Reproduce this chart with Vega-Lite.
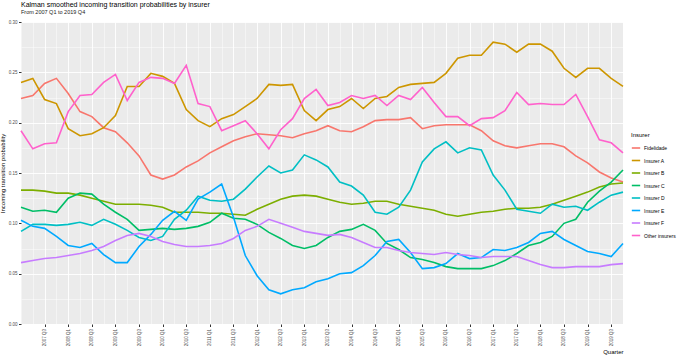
{
  "$schema": "https://vega.github.io/schema/vega-lite/v6.json",
  "width": 602,
  "height": 302,
  "autosize": {"type": "none"},
  "padding": {"left": 21, "top": 22, "right": 57, "bottom": 31},
  "background": "white",
  "title": {
    "text": "Kalman smoothed incoming transition probabilities by insurer",
    "subtitle": "From 2007 Q1 to 2019 Q4",
    "anchor": "start",
    "frame": "group",
    "font": "Liberation Sans",
    "fontSize": 7,
    "fontWeight": "normal",
    "color": "#000000",
    "subtitleFont": "Liberation Sans",
    "subtitleFontSize": 5.5,
    "subtitleColor": "#1a1a1a",
    "subtitlePadding": 2,
    "offset": 4
  },
  "config": {
    "view": {"fill": "#EBEBEB", "stroke": null},
    "font": "Liberation Sans"
  },
  "data": {
    "values": [
      {"q": "2007 Q1", "Fidelidade": 0.224, "Insurer A": 0.240, "Insurer B": 0.133, "Insurer C": 0.116, "Insurer D": 0.092, "Insurer E": 0.103, "Insurer F": 0.061, "Other insurers": 0.192},
      {"q": "2007 Q2", "Fidelidade": 0.227, "Insurer A": 0.244, "Insurer B": 0.133, "Insurer C": 0.112, "Insurer D": 0.099, "Insurer E": 0.097, "Insurer F": 0.063, "Other insurers": 0.174},
      {"q": "2007 Q3", "Fidelidade": 0.239, "Insurer A": 0.223, "Insurer B": 0.132, "Insurer C": 0.113, "Insurer D": 0.099, "Insurer E": 0.095, "Insurer F": 0.065, "Other insurers": 0.179},
      {"q": "2007 Q4", "Fidelidade": 0.244, "Insurer A": 0.219, "Insurer B": 0.130, "Insurer C": 0.111, "Insurer D": 0.098, "Insurer E": 0.087, "Insurer F": 0.066, "Other insurers": 0.180},
      {"q": "2008 Q1", "Fidelidade": 0.229, "Insurer A": 0.194, "Insurer B": 0.130, "Insurer C": 0.125, "Insurer D": 0.099, "Insurer E": 0.078, "Insurer F": 0.068, "Other insurers": 0.211},
      {"q": "2008 Q2", "Fidelidade": 0.211, "Insurer A": 0.187, "Insurer B": 0.128, "Insurer C": 0.130, "Insurer D": 0.101, "Insurer E": 0.076, "Insurer F": 0.070, "Other insurers": 0.227},
      {"q": "2008 Q3", "Fidelidade": 0.206, "Insurer A": 0.189, "Insurer B": 0.125, "Insurer C": 0.129, "Insurer D": 0.098, "Insurer E": 0.080, "Insurer F": 0.073, "Other insurers": 0.228},
      {"q": "2008 Q4", "Fidelidade": 0.195, "Insurer A": 0.195, "Insurer B": 0.122, "Insurer C": 0.119, "Insurer D": 0.104, "Insurer E": 0.069, "Insurer F": 0.077, "Other insurers": 0.240},
      {"q": "2009 Q1", "Fidelidade": 0.191, "Insurer A": 0.207, "Insurer B": 0.119, "Insurer C": 0.111, "Insurer D": 0.099, "Insurer E": 0.061, "Insurer F": 0.083, "Other insurers": 0.248},
      {"q": "2009 Q2", "Fidelidade": 0.180, "Insurer A": 0.236, "Insurer B": 0.119, "Insurer C": 0.104, "Insurer D": 0.093, "Insurer E": 0.061, "Insurer F": 0.088, "Other insurers": 0.222},
      {"q": "2009 Q3", "Fidelidade": 0.167, "Insurer A": 0.236, "Insurer B": 0.119, "Insurer C": 0.093, "Insurer D": 0.086, "Insurer E": 0.077, "Insurer F": 0.090, "Other insurers": 0.240},
      {"q": "2009 Q4", "Fidelidade": 0.148, "Insurer A": 0.249, "Insurer B": 0.118, "Insurer C": 0.094, "Insurer D": 0.083, "Insurer E": 0.089, "Insurer F": 0.087, "Other insurers": 0.245},
      {"q": "2010 Q1", "Fidelidade": 0.144, "Insurer A": 0.246, "Insurer B": 0.116, "Insurer C": 0.095, "Insurer D": 0.087, "Insurer E": 0.103, "Insurer F": 0.082, "Other insurers": 0.244},
      {"q": "2010 Q2", "Fidelidade": 0.148, "Insurer A": 0.239, "Insurer B": 0.111, "Insurer C": 0.094, "Insurer D": 0.104, "Insurer E": 0.112, "Insurer F": 0.079, "Other insurers": 0.239},
      {"q": "2010 Q3", "Fidelidade": 0.156, "Insurer A": 0.213, "Insurer B": 0.111, "Insurer C": 0.095, "Insurer D": 0.113, "Insurer E": 0.103, "Insurer F": 0.077, "Other insurers": 0.257},
      {"q": "2010 Q4", "Fidelidade": 0.162, "Insurer A": 0.202, "Insurer B": 0.111, "Insurer C": 0.097, "Insurer D": 0.127, "Insurer E": 0.124, "Insurer F": 0.077, "Other insurers": 0.219},
      {"q": "2011 Q1", "Fidelidade": 0.170, "Insurer A": 0.196, "Insurer B": 0.110, "Insurer C": 0.101, "Insurer D": 0.123, "Insurer E": 0.131, "Insurer F": 0.078, "Other insurers": 0.216},
      {"q": "2011 Q2", "Fidelidade": 0.176, "Insurer A": 0.204, "Insurer B": 0.110, "Insurer C": 0.110, "Insurer D": 0.122, "Insurer E": 0.139, "Insurer F": 0.080, "Other insurers": 0.192},
      {"q": "2011 Q3", "Fidelidade": 0.182, "Insurer A": 0.208, "Insurer B": 0.109, "Insurer C": 0.105, "Insurer D": 0.124, "Insurer E": 0.106, "Insurer F": 0.085, "Other insurers": 0.197},
      {"q": "2011 Q4", "Fidelidade": 0.186, "Insurer A": 0.216, "Insurer B": 0.108, "Insurer C": 0.104, "Insurer D": 0.134, "Insurer E": 0.068, "Insurer F": 0.093, "Other insurers": 0.202},
      {"q": "2012 Q1", "Fidelidade": 0.189, "Insurer A": 0.224, "Insurer B": 0.114, "Insurer C": 0.099, "Insurer D": 0.146, "Insurer E": 0.048, "Insurer F": 0.097, "Other insurers": 0.189},
      {"q": "2012 Q2", "Fidelidade": 0.188, "Insurer A": 0.238, "Insurer B": 0.119, "Insurer C": 0.091, "Insurer D": 0.157, "Insurer E": 0.034, "Insurer F": 0.104, "Other insurers": 0.174},
      {"q": "2012 Q3", "Fidelidade": 0.187, "Insurer A": 0.237, "Insurer B": 0.124, "Insurer C": 0.085, "Insurer D": 0.150, "Insurer E": 0.030, "Insurer F": 0.100, "Other insurers": 0.193},
      {"q": "2012 Q4", "Fidelidade": 0.185, "Insurer A": 0.238, "Insurer B": 0.127, "Insurer C": 0.078, "Insurer D": 0.153, "Insurer E": 0.034, "Insurer F": 0.096, "Other insurers": 0.204},
      {"q": "2013 Q1", "Fidelidade": 0.189, "Insurer A": 0.212, "Insurer B": 0.128, "Insurer C": 0.075, "Insurer D": 0.168, "Insurer E": 0.036, "Insurer F": 0.092, "Other insurers": 0.224},
      {"q": "2013 Q2", "Fidelidade": 0.192, "Insurer A": 0.202, "Insurer B": 0.127, "Insurer C": 0.078, "Insurer D": 0.163, "Insurer E": 0.042, "Insurer F": 0.090, "Other insurers": 0.233},
      {"q": "2013 Q3", "Fidelidade": 0.197, "Insurer A": 0.213, "Insurer B": 0.124, "Insurer C": 0.086, "Insurer D": 0.156, "Insurer E": 0.045, "Insurer F": 0.088, "Other insurers": 0.217},
      {"q": "2013 Q4", "Fidelidade": 0.192, "Insurer A": 0.216, "Insurer B": 0.121, "Insurer C": 0.092, "Insurer D": 0.141, "Insurer E": 0.050, "Insurer F": 0.089, "Other insurers": 0.220},
      {"q": "2014 Q1", "Fidelidade": 0.191, "Insurer A": 0.224, "Insurer B": 0.119, "Insurer C": 0.094, "Insurer D": 0.137, "Insurer E": 0.051, "Insurer F": 0.086, "Other insurers": 0.227},
      {"q": "2014 Q2", "Fidelidade": 0.196, "Insurer A": 0.214, "Insurer B": 0.120, "Insurer C": 0.099, "Insurer D": 0.128, "Insurer E": 0.058, "Insurer F": 0.081, "Other insurers": 0.224},
      {"q": "2014 Q3", "Fidelidade": 0.202, "Insurer A": 0.224, "Insurer B": 0.122, "Insurer C": 0.093, "Insurer D": 0.111, "Insurer E": 0.068, "Insurer F": 0.076, "Other insurers": 0.227},
      {"q": "2014 Q4", "Fidelidade": 0.203, "Insurer A": 0.226, "Insurer B": 0.122, "Insurer C": 0.080, "Insurer D": 0.109, "Insurer E": 0.082, "Insurer F": 0.076, "Other insurers": 0.217},
      {"q": "2015 Q1", "Fidelidade": 0.203, "Insurer A": 0.235, "Insurer B": 0.119, "Insurer C": 0.074, "Insurer D": 0.116, "Insurer E": 0.084, "Insurer F": 0.073, "Other insurers": 0.227},
      {"q": "2015 Q2", "Fidelidade": 0.205, "Insurer A": 0.238, "Insurer B": 0.117, "Insurer C": 0.066, "Insurer D": 0.133, "Insurer E": 0.071, "Insurer F": 0.071, "Other insurers": 0.223},
      {"q": "2015 Q3", "Fidelidade": 0.194, "Insurer A": 0.239, "Insurer B": 0.115, "Insurer C": 0.064, "Insurer D": 0.161, "Insurer E": 0.055, "Insurer F": 0.070, "Other insurers": 0.235},
      {"q": "2015 Q4", "Fidelidade": 0.197, "Insurer A": 0.240, "Insurer B": 0.113, "Insurer C": 0.061, "Insurer D": 0.174, "Insurer E": 0.056, "Insurer F": 0.069, "Other insurers": 0.220},
      {"q": "2016 Q1", "Fidelidade": 0.198, "Insurer A": 0.249, "Insurer B": 0.109, "Insurer C": 0.057, "Insurer D": 0.181, "Insurer E": 0.060, "Insurer F": 0.071, "Other insurers": 0.206},
      {"q": "2016 Q2", "Fidelidade": 0.198, "Insurer A": 0.264, "Insurer B": 0.107, "Insurer C": 0.055, "Insurer D": 0.170, "Insurer E": 0.070, "Insurer F": 0.069, "Other insurers": 0.206},
      {"q": "2016 Q3", "Fidelidade": 0.198, "Insurer A": 0.267, "Insurer B": 0.109, "Insurer C": 0.055, "Insurer D": 0.175, "Insurer E": 0.065, "Insurer F": 0.068, "Other insurers": 0.197},
      {"q": "2016 Q4", "Fidelidade": 0.192, "Insurer A": 0.267, "Insurer B": 0.111, "Insurer C": 0.055, "Insurer D": 0.173, "Insurer E": 0.066, "Insurer F": 0.066, "Other insurers": 0.204},
      {"q": "2017 Q1", "Fidelidade": 0.182, "Insurer A": 0.280, "Insurer B": 0.112, "Insurer C": 0.058, "Insurer D": 0.148, "Insurer E": 0.074, "Insurer F": 0.067, "Other insurers": 0.205},
      {"q": "2017 Q2", "Fidelidade": 0.177, "Insurer A": 0.278, "Insurer B": 0.114, "Insurer C": 0.063, "Insurer D": 0.133, "Insurer E": 0.073, "Insurer F": 0.067, "Other insurers": 0.212},
      {"q": "2017 Q3", "Fidelidade": 0.175, "Insurer A": 0.270, "Insurer B": 0.115, "Insurer C": 0.070, "Insurer D": 0.114, "Insurer E": 0.076, "Insurer F": 0.067, "Other insurers": 0.230},
      {"q": "2017 Q4", "Fidelidade": 0.177, "Insurer A": 0.278, "Insurer B": 0.115, "Insurer C": 0.078, "Insurer D": 0.112, "Insurer E": 0.081, "Insurer F": 0.063, "Other insurers": 0.218},
      {"q": "2018 Q1", "Fidelidade": 0.179, "Insurer A": 0.278, "Insurer B": 0.116, "Insurer C": 0.081, "Insurer D": 0.110, "Insurer E": 0.090, "Insurer F": 0.059, "Other insurers": 0.219},
      {"q": "2018 Q2", "Fidelidade": 0.179, "Insurer A": 0.271, "Insurer B": 0.119, "Insurer C": 0.087, "Insurer D": 0.119, "Insurer E": 0.092, "Insurer F": 0.056, "Other insurers": 0.218},
      {"q": "2018 Q3", "Fidelidade": 0.176, "Insurer A": 0.254, "Insurer B": 0.123, "Insurer C": 0.100, "Insurer D": 0.116, "Insurer E": 0.084, "Insurer F": 0.056, "Other insurers": 0.218},
      {"q": "2018 Q4", "Fidelidade": 0.167, "Insurer A": 0.245, "Insurer B": 0.127, "Insurer C": 0.104, "Insurer D": 0.117, "Insurer E": 0.078, "Insurer F": 0.057, "Other insurers": 0.228},
      {"q": "2019 Q1", "Fidelidade": 0.160, "Insurer A": 0.254, "Insurer B": 0.131, "Insurer C": 0.121, "Insurer D": 0.113, "Insurer E": 0.072, "Insurer F": 0.057, "Other insurers": 0.206},
      {"q": "2019 Q2", "Fidelidade": 0.151, "Insurer A": 0.254, "Insurer B": 0.136, "Insurer C": 0.132, "Insurer D": 0.121, "Insurer E": 0.070, "Insurer F": 0.057, "Other insurers": 0.183},
      {"q": "2019 Q3", "Fidelidade": 0.145, "Insurer A": 0.244, "Insurer B": 0.139, "Insurer C": 0.141, "Insurer D": 0.128, "Insurer E": 0.067, "Insurer F": 0.059, "Other insurers": 0.180},
      {"q": "2019 Q4", "Fidelidade": 0.141, "Insurer A": 0.236, "Insurer B": 0.140, "Insurer C": 0.153, "Insurer D": 0.131, "Insurer E": 0.080, "Insurer F": 0.060, "Other insurers": 0.170}
    ]
  },
  "transform": [
    {"fold": ["Fidelidade", "Insurer A", "Insurer B", "Insurer C", "Insurer D", "Insurer E", "Insurer F", "Other insurers"], "as": ["insurer", "p"]}
  ],
  "mark": {"type": "line", "strokeWidth": 1.6},
  "encoding": {
    "x": {
      "field": "q",
      "type": "ordinal",
      "scale": {"type": "point", "padding": 0},
      "axis": {
        "title": "Quarter",
        "titleAnchor": "end",
        "titleFontSize": 6,
        "titleFontWeight": "normal",
        "titleColor": "#000000",
        "titlePadding": 3,
        "labelFontSize": 4.5,
        "labelColor": "#4D4D4D",
        "labelAngle": 270,
        "labelPadding": 2,
        "labelOverlap": false,
        "labelBound": false,
        "labelExpr": "((indexof(datum.value,'Q1')>=0 || indexof(datum.value,'Q3')>=0) && datum.value != '2007 Q1') ? datum.value : ''",
        "domain": false,
        "tickSize": 2.5,
        "tickColor": "#333333",
        "tickOpacity": {"condition": {"test": "(indexof(datum.value,'Q1')>=0 || indexof(datum.value,'Q3')>=0) && datum.value != '2007 Q1'", "value": 1}, "value": 0},
        "grid": true,
        "gridColor": "#FFFFFF",
        "gridWidth": {"condition": {"test": "(indexof(datum.value,'Q1')>=0 || indexof(datum.value,'Q3')>=0) && datum.value != '2007 Q1'", "value": 0.9}, "value": 0.45}
      }
    },
    "y": {
      "field": "p",
      "type": "quantitative",
      "scale": {"domain": [0, 0.3], "nice": false, "zero": true},
      "axis": {
        "title": "Incoming transition probability",
        "titleFontSize": 6,
        "titleFontWeight": "normal",
        "titleColor": "#000000",
        "titlePadding": 3,
        "values": [0, 0.025, 0.05, 0.075, 0.1, 0.125, 0.15, 0.175, 0.2, 0.225, 0.25, 0.275, 0.3],
        "labelExpr": "abs(datum.value*20 - round(datum.value*20)) < 0.001 ? format(datum.value, '.2f') : ''",
        "labelFontSize": 4.5,
        "labelColor": "#4D4D4D",
        "labelPadding": 1.5,
        "domain": false,
        "tickSize": 2.5,
        "tickColor": "#333333",
        "tickOpacity": {"condition": {"test": "abs(datum.value*20 - round(datum.value*20)) < 0.001", "value": 1}, "value": 0},
        "grid": true,
        "gridColor": "#FFFFFF",
        "gridWidth": {"condition": {"test": "abs(datum.value*20 - round(datum.value*20)) < 0.001", "value": 0.9}, "value": 0.45}
      }
    },
    "color": {
      "field": "insurer",
      "type": "nominal",
      "scale": {
        "domain": ["Fidelidade", "Insurer A", "Insurer B", "Insurer C", "Insurer D", "Insurer E", "Insurer F", "Other insurers"],
        "range": ["#F8766D", "#CD9600", "#7CAE00", "#00BE67", "#00BFC4", "#00A9FF", "#C77CFF", "#FF61CC"]
      },
      "legend": {
        "title": "Insurer",
        "orient": "none",
        "legendX": 610,
        "legendY": 110,
        "titleFontSize": 6,
        "titleFontWeight": "normal",
        "titleColor": "#000000",
        "titlePadding": 5,
        "labelFontSize": 5,
        "labelColor": "#000000",
        "labelOffset": 3,
        "symbolType": "stroke",
        "symbolSize": 70,
        "symbolStrokeWidth": 1.6,
        "rowPadding": 3.5
      }
    }
  }
}
